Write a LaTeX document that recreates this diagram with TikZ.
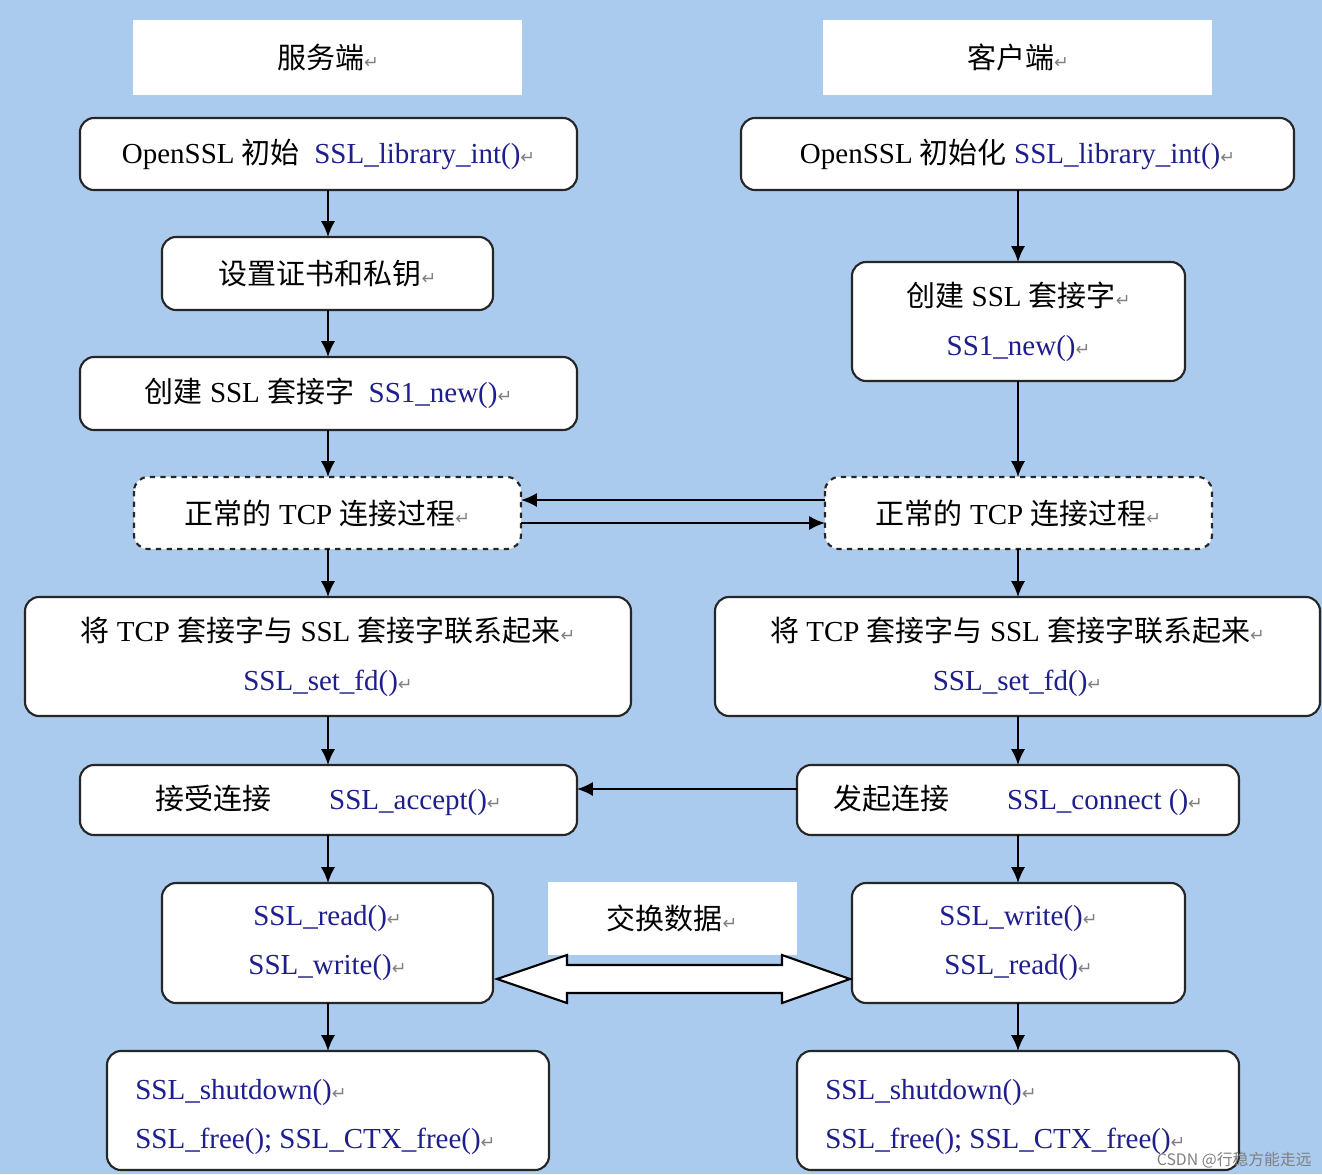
\documentclass[tikz,border=0pt]{standalone}
\usepackage{fontspec}
\setmainfont{Liberation Serif}
\newfontfamily\cjk{Noto Sans CJK SC}
\newfontfamily\sym{DejaVu Sans}
\definecolor{bg}{RGB}{170,203,238}
\definecolor{fn}{RGB}{30,30,140}
\newcommand{\rt}{{\sym\fontsize{10}{10}\selectfont\color{gray}↵}}
\newcommand{\fn}[1]{\textcolor{fn}{#1}}
\newcommand{\zh}[1]{{\cjk #1}}
\begin{document}
\begin{tikzpicture}[x=0.02cm,y=-0.02cm,
  box/.style={draw=black!85,line width=1.2pt,rounded corners=8pt,fill=white},
  dbox/.style={box,dashed},
  ttl/.style={fill=white,draw=none},
  txt/.style={font=\fontsize{16.5}{28}\selectfont,align=center,inner sep=0pt},
  arr/.style={-{Latex[length=9pt,width=8pt]},line width=1.2pt}]
\usetikzlibrary{arrows.meta}
\useasboundingbox (0,0) rectangle (1322,1174);
\fill[bg] (0,0) rectangle (1322,1174);
% titles
\fill[ttl] (133,20) rectangle (522,95); \node[txt] (st) at (328,57) {\zh{服务端}\rt};
\fill[ttl] (823,20) rectangle (1212,95); \node[txt] (ct) at (1018,57) {\zh{客户端}\rt};
\fill[ttl] (548,882) rectangle (797,955); \node[txt] (ex) at (672,918) {\zh{交换数据}\rt};
% server boxes
\draw[box] (80,118) rectangle (577,190) coordinate[pos=.5] (s1);
\node[txt] at (s1) {OpenSSL \zh{初始}\ \ \fn{SSL\_library\_int()}\rt};
\draw[box] (162,237) rectangle (493,310) coordinate[pos=.5] (s2);
\node[txt] at (s2) {\zh{设置证书和私钥}\rt};
\draw[box] (80,357) rectangle (577,430) coordinate[pos=.5] (s3);
\node[txt] at (s3) {\zh{创建} SSL \zh{套接字}\ \ \fn{SS1\_new()}\rt};
\draw[dbox] (134,477) rectangle (521,549) coordinate[pos=.5] (s4);
\node[txt] at (s4) {\zh{正常的} TCP \zh{连接过程}\rt};
\draw[box] (25,597) rectangle (631,716) coordinate[pos=.5] (s5);
\node[txt] at (s5) {\zh{将} TCP \zh{套接字与} SSL \zh{套接字联系起来}\rt\\\fn{SSL\_set\_fd()}\rt};
\draw[box] (80,765) rectangle (577,835) coordinate[pos=.5] (s6);
\node[txt] at (s6) {\zh{接受连接}\qquad\fn{SSL\_accept()}\rt};
\draw[box] (162,883) rectangle (493,1003) coordinate[pos=.5] (s7);
\node[txt] at (s7) {\fn{SSL\_read()}\rt\\\fn{SSL\_write()}\rt};
\draw[box] (107,1051) rectangle (549,1170) coordinate[pos=.5] (s8);
\node[txt,align=left,anchor=west] at (135,1117) {\fn{SSL\_shutdown()}\rt\\\fn{SSL\_free(); SSL\_CTX\_free()}\rt};
% client boxes
\draw[box] (741,118) rectangle (1294,190) coordinate[pos=.5] (c1);
\node[txt] at (c1) {OpenSSL \zh{初始化}\ \fn{SSL\_library\_int()}\rt};
\draw[box] (852,262) rectangle (1185,381) coordinate[pos=.5] (c2);
\node[txt] at (c2) {\zh{创建} SSL \zh{套接字}\rt\\\fn{SS1\_new()}\rt};
\draw[dbox] (825,477) rectangle (1212,549) coordinate[pos=.5] (c4);
\node[txt] at (c4) {\zh{正常的} TCP \zh{连接过程}\rt};
\draw[box] (715,597) rectangle (1320,716) coordinate[pos=.5] (c5);
\node[txt] at (c5) {\zh{将} TCP \zh{套接字与} SSL \zh{套接字联系起来}\rt\\\fn{SSL\_set\_fd()}\rt};
\draw[box] (797,765) rectangle (1239,835) coordinate[pos=.5] (c6);
\node[txt] at (c6) {\zh{发起连接}\qquad\fn{SSL\_connect ()}\rt};
\draw[box] (852,883) rectangle (1185,1003) coordinate[pos=.5] (c7);
\node[txt] at (c7) {\fn{SSL\_write()}\rt\\\fn{SSL\_read()}\rt};
\draw[box] (797,1051) rectangle (1239,1170) coordinate[pos=.5] (c8);
\node[txt,align=left,anchor=west] at (825,1117) {\fn{SSL\_shutdown()}\rt\\\fn{SSL\_free(); SSL\_CTX\_free()}\rt};
% vertical arrows
\foreach \a/\b in {190/237,310/357,430/477,549/597,716/765,835/883,1003/1051}
  \draw[arr] (328,\a) -- (328,\b);
\foreach \a/\b in {190/262,381/477,549/597,716/765,835/883,1003/1051}
  \draw[arr] (1018,\a) -- (1018,\b);
% horizontal arrows
\draw[arr] (825,500) -- (521,500);
\draw[arr] (521,523) -- (825,523);
\draw[arr] (797,789) -- (577,789);
% double hollow arrow
\draw[fill=white,line width=1.2pt] (497,979) -- (567,955) -- (567,965) -- (782,965) -- (782,955) -- (850,979)
  -- (782,1003) -- (782,993) -- (567,993) -- (567,1003) -- cycle;
% watermark
\node[txt,font=\cjk\fontsize{9}{9}\selectfont,text=gray,anchor=east] at (1312,1160) {CSDN @行稳方能走远};
\end{tikzpicture}
\end{document}
